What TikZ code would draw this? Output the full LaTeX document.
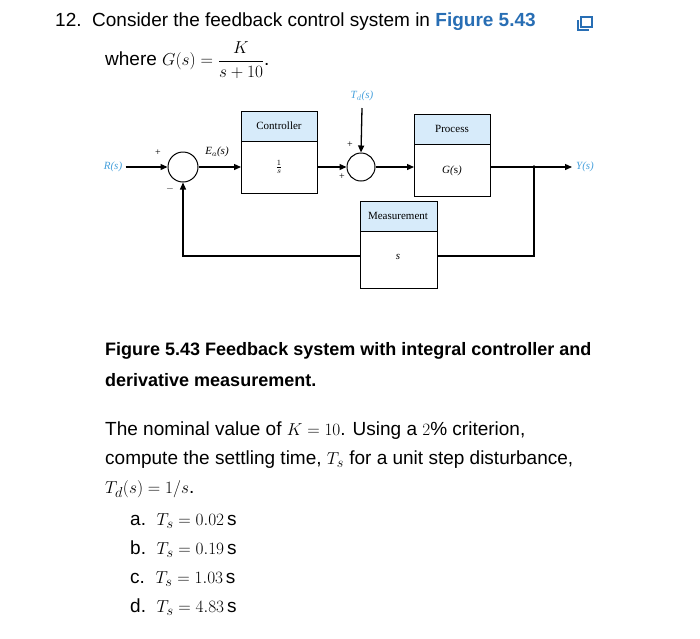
\documentclass[tikz,border=0pt]{standalone}
\usepackage{fontspec}
\setmainfont{Liberation Sans}
\newfontfamily\tms{Liberation Serif}
\usetikzlibrary{arrows.meta}
\definecolor{figblue}{RGB}{40,110,180}
\definecolor{lblblue}{RGB}{70,160,220}
\definecolor{hdr}{RGB}{215,235,250}
\begin{document}
\begin{tikzpicture}[x=1pt,y=-1pt,
  blk/.style={draw,line width=1pt},
  hd/.style={draw,line width=1pt,fill=hdr},
  sig/.style={line width=1.3pt,-{Triangle[length=7pt,width=6pt]}},
  wire/.style={line width=1.3pt},
  sumc/.style={circle,draw,line width=1pt,minimum size=30pt,inner sep=0pt},
  dl/.style={font=\tms\fontsize{11}{13}\selectfont},
  bl/.style={font=\tms\itshape\fontsize{11}{13}\selectfont,text=lblblue},
  sg/.style={font=\tms\fontsize{10}{12}\selectfont,inner sep=0pt},
  body/.style={anchor=west,font=\fontsize{19}{23}\selectfont,inner sep=0pt}]
\useasboundingbox (0,0) rectangle (700,638);
% header text
\node[body] (t1) at (55,22) {12.\ \ Consider the feedback control system in \textcolor{figblue}{\bfseries Figure 5.43}};
\draw[figblue,line width=1.2pt] (581,17) rectangle (592,27) (578,20) -- (578,30) -- (589,30);
\node[body] (t2) at (105,60) {where $\displaystyle G(s) = \frac{K}{s+10}$.};
% diagram
\node[sumc] (s1) at (183,167) {};
\node[sumc,minimum size=28pt] (s2) at (361,167) {};
\draw[hd] (241,111) rectangle (317,141);
\draw[blk] (241,141) rectangle (317,193);
\node[dl] (hc) at (279,126) {Controller};
\node[dl] (c) at (279,167) {$\frac{1}{s}$};
\coordinate (cin) at (241,167); \coordinate (cout) at (317,167);
\draw[hd] (414,114) rectangle (490,144);
\draw[blk] (414,144) rectangle (490,196);
\node[dl] (hp) at (452,129) {Process};
\node[dl] (g) at (452,171) {\itshape G(\upshape s\itshape)};
\coordinate (pin) at (414,167); \coordinate (pout) at (490,167);
\draw[hd] (360,201) rectangle (437,231);
\draw[blk] (360,231) rectangle (437,288);
\node[dl] (hm) at (398,216) {Measurement};
\node[dl] (m) at (398,257) {\itshape s};
\coordinate (min) at (437,256); \coordinate (mout) at (360,256);
\node[bl] (R) at (113,167) {R(s)};
\node[bl] (Y) at (585,167) {Y(s)};
\node[bl] (Td) at (362,96) {T$_d$(s)};
\node[dl] (E) at (217,152) {\itshape E$_a$(s)};
\coordinate (tdtop) at (362,108);
\coordinate (br) at (534,167);
\coordinate (yend) at (572,167);
\coordinate (fb) at (183,256);
\draw[sig] (R.east) -- (s1.west);
\draw[sig] (s1.east) -- (cin);
\draw[sig] (cout) -- (s2.west);
\draw[sig] (tdtop) -- (s2.north);
\draw[sig] (s2.east) -- (pin);
\draw[sig] (pout) -- (yend);
\fill (br) circle (1.8pt);
\draw[wire] (br) |- (min);
\draw[sig] (mout) -- (fb) -- (s1.south);
\node[sg] (p1) at (158,153) {+};
\node[sg] (m1) at (170,189) {$-$};
\node[sg] (p2) at (350,145) {+};
\node[sg] (p3) at (342,177) {+};
% caption and question
\node[body,font=\bfseries\fontsize{18}{22}\selectfont] (cap1) at (105,351) {Figure 5.43 Feedback system with integral controller and};
\node[body,font=\bfseries\fontsize{18}{22}\selectfont] (cap2) at (105,380) {derivative measurement.};
\node[body] (q1) at (105,431) {The nominal value of $K = 10$. Using a $2\%$ criterion,};
\node[body] (q2) at (105,460) {compute the settling time, $T_s$ for a unit step disturbance,};
\node[body] (q3) at (105,489) {$T_d(s) = 1/s$.};
\node[body] (a) at (130,521) {a.\ \ $T_s = 0.02\,\mathrm{s}$};
\node[body] (b) at (130,549) {b.\ \ $T_s = 0.19\,\mathrm{s}$};
\node[body] (c2) at (130,579) {c.\ \ $T_s = 1.03\,\mathrm{s}$};
\node[body] (d) at (130,607) {d.\ \ $T_s = 4.83\,\mathrm{s}$};
\end{tikzpicture}
\end{document}
